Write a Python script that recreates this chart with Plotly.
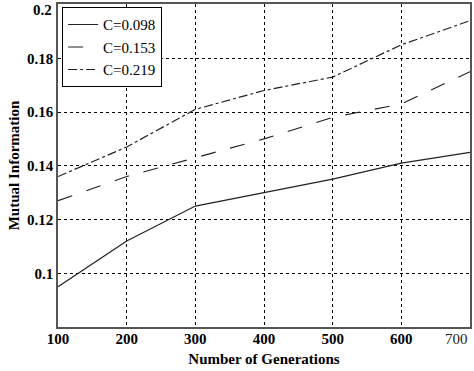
import plotly.graph_objects as go

generations = [100, 200, 300, 400, 500, 600, 700]
mi_c098 = [0.095, 0.112, 0.125, 0.130, 0.135, 0.141, 0.145]
mi_c153 = [0.127, 0.136, 0.143, 0.150, 0.158, 0.163, 0.175]
mi_c219 = [0.136, 0.147, 0.161, 0.168, 0.173, 0.185, 0.194]
series_names = ["C=0.098", "C=0.153", "C=0.219"]
x_ticks = [100, 200, 300, 400, 500, 600, 700]
y_ticks = [0.1, 0.12, 0.14, 0.16, 0.18, 0.2]

font_family = "Liberation Serif, Times New Roman, serif"

fig = go.Figure()
styles = ["solid", "longdash", "dashdot"]
for name, vals, dash in zip(series_names, [mi_c098, mi_c153, mi_c219], styles):
    fig.add_trace(go.Scatter(
        x=generations, y=vals, mode="lines", name=name,
        line=dict(color="#222222", width=1.2, dash=dash),
    ))

# Edge tick labels (last x tick, last y tick) are nudged inward as in the reference
x_text = [str(v) for v in x_ticks[:-1]] + [""]
y_text = [f"{v:g}" for v in y_ticks[:-1]] + [""]

fig.update_layout(
    width=474, height=371,
    margin=dict(l=58, r=4, t=4, b=44, autoexpand=False),
    paper_bgcolor="white", plot_bgcolor="white",
    font=dict(family=font_family, color="black", size=14),
    showlegend=True,
    legend=dict(
        x=0.01, y=0.99, xanchor="left", yanchor="top",
        bgcolor="white", bordercolor="black", borderwidth=1,
        font=dict(family=font_family, size=15, color="black"),
        tracegroupgap=0, itemwidth=30,
    ),
    annotations=[
        dict(x=x_ticks[-1], y=0, xref="x", yref="paper", text=str(x_ticks[-1]),
             showarrow=False, xanchor="right", yanchor="top", yshift=-2,
             font=dict(family=font_family, size=15, color="#222222")),
        dict(x=0, y=y_ticks[-1], xref="paper", yref="y", text=f"{y_ticks[-1]:g}",
             showarrow=False, xanchor="right", yanchor="middle", xshift=-4, yshift=-5,
             font=dict(family=font_family, size=15, weight="bold", color="black")),
    ],
)
fig.update_xaxes(
    range=[99.9, 700.1], tickvals=x_ticks, ticktext=x_text,
    showgrid=True, gridcolor="black", griddash="dot", gridwidth=1,
    showline=True, linecolor="#555555", linewidth=1.5, mirror=True,
    ticks="", zeroline=False, automargin=False,
    tickfont=dict(family=font_family, size=15, weight="bold"),
    ticklabelstandoff=-3,
    title=dict(text="Number of Generations", standoff=8,
               font=dict(family=font_family, size=15, weight="bold")),
)
fig.update_yaxes(
    range=[0.08, 0.2002], tickvals=y_ticks, ticktext=y_text,
    showgrid=True, gridcolor="black", griddash="dot", gridwidth=1,
    showline=True, linecolor="#555555", linewidth=1.5, mirror=True,
    ticks="", zeroline=False, automargin=False,
    tickfont=dict(family=font_family, size=15, weight="bold"),
    title=dict(text="Mutual Information", standoff=4,
               font=dict(family=font_family, size=15, weight="bold")),
)

fig.write_html("out.html", config={"displayModeBar": False},
               post_script="document.body.style.margin='0px';")
